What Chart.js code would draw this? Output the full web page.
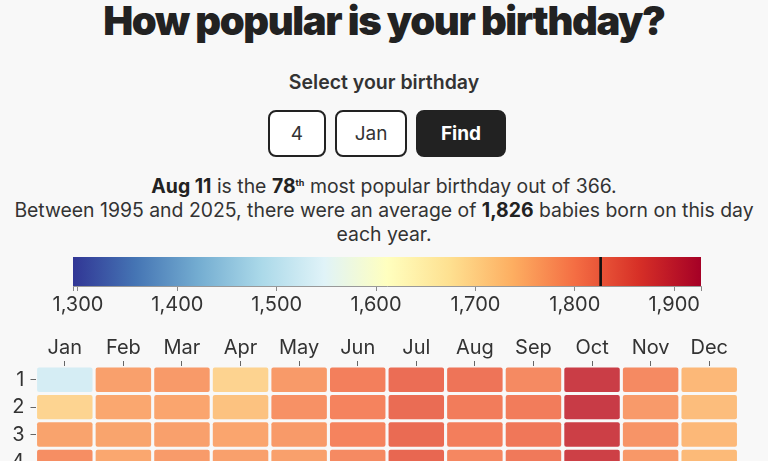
<!DOCTYPE html>
<html>
<head>
<meta charset="utf-8">
<script src="https://cdn.jsdelivr.net/npm/chart.js@4"></script>
<style>
  html, body { margin: 0; background: #f8f8f8; overflow: hidden; font-family: Inter, sans-serif; color: #2a2a2a; }
  .abs { position: absolute; }
  #title { top: -1px; left: 0; width: 768px; text-align: center; font-size: 40px; font-weight: 900; letter-spacing: -0.035em; line-height: 44px; color: #222; }
  #pick { top: 71px; left: 0; width: 768px; text-align: center; font-size: 19.5px; font-weight: 600; line-height: 22px; color: #333; }
  .box { top: 110px; height: 47px; box-sizing: border-box; border: 2px solid #222; border-radius: 8px; background: #fff;
         display: flex; align-items: center; justify-content: center; font-size: 19px; color: #333; }
  #find { background: #222; color: #fff; font-weight: 700; }
  #info { top: 171px; left: 0; width: 768px; text-align: center; font-size: 19.4px; line-height: 24px; color: #333; white-space: nowrap; }
  #info b { color: #222; }
  #info sup { font-size: 9px; font-weight: 700; }
</style>
</head>
<body>
<div id="title" class="abs">How popular is your birthday?</div>
<div id="pick" class="abs">Select your birthday</div>
<div class="abs box" style="left:268px;width:58px">4</div>
<div class="abs box" style="left:335px;width:72px">Jan</div>
<div class="abs box" id="find" style="left:416px;width:90px">Find</div>
<div id="info" class="abs">
  <b>Aug 11</b> is the <b>78<sup>th</sup></b> most popular birthday out of 366.<br>
  Between 1995 and 2025, there were an average of <b>1,826</b> babies born on this day<br>
  each year.
</div>
<canvas id="scale" class="abs" style="left:0;top:250px" width="768" height="70"></canvas>
<canvas id="grid" class="abs" style="left:0;top:326px" width="768" height="908"></canvas>
<script>
// colour scale domain and ticks
const scaleMin = 1295;
const scaleMax = 1927;
const scaleTicks = [1300, 1400, 1500, 1600, 1700, 1800, 1900];
const selectedValue = 1826;

const months = ['Jan', 'Feb', 'Mar', 'Apr', 'May', 'Jun', 'Jul', 'Aug', 'Sep', 'Oct', 'Nov', 'Dec'];
const dayLabels = [];
for (let d = 1; d <= 31; d++) dayLabels.push(d);

// average births per day, Jan..Dec (only the rows visible in the picture)
const day1 = [1528, 1766, 1773, 1698, 1773, 1804, 1825, 1817, 1791, 1890, 1791, 1738];
const day2 = [1697, 1758, 1760, 1724, 1783, 1800, 1828, 1808, 1808, 1893, 1772, 1731];
const day3 = [1763, 1762, 1766, 1760, 1773, 1800, 1829, 1806, 1814, 1888, 1779, 1738];
const day4 = [1787, 1758, 1771, 1767, 1766, 1791, 1834, 1795, 1811, 1885, 1775, 1736];
const rows = [day1, day2, day3, day4];

// reversed RdYlBu
const scheme = ['#313695', '#4575b4', '#74add1', '#abd9e9', '#e0f3f8', '#ffffbf',
                '#fee090', '#fdae61', '#f46d43', '#d73027', '#a50026'];

function hexRgb(h) {
  return [parseInt(h.slice(1, 3), 16), parseInt(h.slice(3, 5), 16), parseInt(h.slice(5, 7), 16)];
}
function colorFor(v, alpha) {
  let t = (v - scaleMin) / (scaleMax - scaleMin);
  t = Math.max(0, Math.min(1, t)) * (scheme.length - 1);
  const i = Math.min(Math.floor(t), scheme.length - 2);
  const f = t - i;
  const a = hexRgb(scheme[i]), b = hexRgb(scheme[i + 1]);
  const c = a.map((x, k) => Math.round(x + (b[k] - x) * f));
  return `rgba(${c[0]},${c[1]},${c[2]},${alpha})`;
}

const font = { family: 'Inter, sans-serif', size: 20 };

// colour legend
new Chart(document.getElementById('scale'), {
  type: 'bar',
  data: {
    labels: [''],
    datasets: [
      { data: [[selectedValue - 1, selectedValue + 1]], backgroundColor: '#111', grouped: false,
        barPercentage: 1, categoryPercentage: 1, order: 0 },
      { data: [[scaleMin, scaleMax]], grouped: false, barPercentage: 1, categoryPercentage: 1, order: 1,
        backgroundColor: (ctx) => {
          const chart = ctx.chart;
          if (!chart.chartArea) return null;
          const x = chart.scales.x;
          const g = chart.ctx.createLinearGradient(x.getPixelForValue(scaleMin), 0, x.getPixelForValue(scaleMax), 0);
          scheme.forEach((c, k) => g.addColorStop(k / (scheme.length - 1), c));
          return g;
        } }
    ]
  },
  options: {
    indexAxis: 'y',
    responsive: false,
    animation: false,
    layout: { padding: { left: 73, right: 67, top: 7, bottom: 0 } },
    plugins: { legend: { display: false }, tooltip: { enabled: false } },
    scales: {
      x: {
        type: 'linear', min: scaleMin, max: scaleMax,
        afterBuildTicks: (s) => { s.ticks = [scaleMin, ...scaleTicks, scaleMax].map(v => ({ value: v })); },
        afterFit: (s) => { s.height = 34; },
        ticks: { autoSkip: false, maxRotation: 0, color: '#333', font: font, padding: 2,
                 callback: (v) => scaleTicks.includes(v) ? v.toLocaleString('en-US') : '' },
        grid: { drawOnChartArea: false, tickLength: 5, color: '#888' },
        border: { display: true, color: '#999' }
      },
      y: { display: false }
    }
  }
});

// calendar heatmap
new Chart(document.getElementById('grid'), {
  type: 'bar',
  data: {
    labels: months,
    datasets: rows.map((vals, i) => ({
      data: vals.map(() => [dayLabels[i] - 0.446, dayLabels[i] + 0.446]),
      backgroundColor: vals.map(v => colorFor(v, 0.85)),
      grouped: false,
      barPercentage: 1,
      categoryPercentage: 0.947,
      borderRadius: 2,
      borderSkipped: false
    }))
  },
  options: {
    responsive: false,
    animation: false,
    layout: { padding: { left: 0, right: 29.5, top: 0, bottom: 0 } },
    plugins: { legend: { display: false }, tooltip: { enabled: false } },
    scales: {
      x: {
        position: 'top',
        offset: true,
        afterFit: (s) => { s.height = 40; },
        ticks: { color: '#333', font: font, padding: 1, maxRotation: 0 },
        grid: { drawOnChartArea: false, offset: false, tickLength: 5, color: '#666' },
        border: { display: false }
      },
      y: {
        type: 'linear', reverse: true, min: 0.5, max: 31.5,
        afterBuildTicks: (s) => { s.ticks = dayLabels.map(v => ({ value: v })); },
        afterFit: (s) => { s.width = 35.5; },
        ticks: { autoSkip: false, color: '#333', font: font, padding: 6 },
        grid: { drawOnChartArea: false, tickLength: 5, color: '#666' },
        border: { display: false }
      }
    }
  }
});
</script>
</body>
</html>
